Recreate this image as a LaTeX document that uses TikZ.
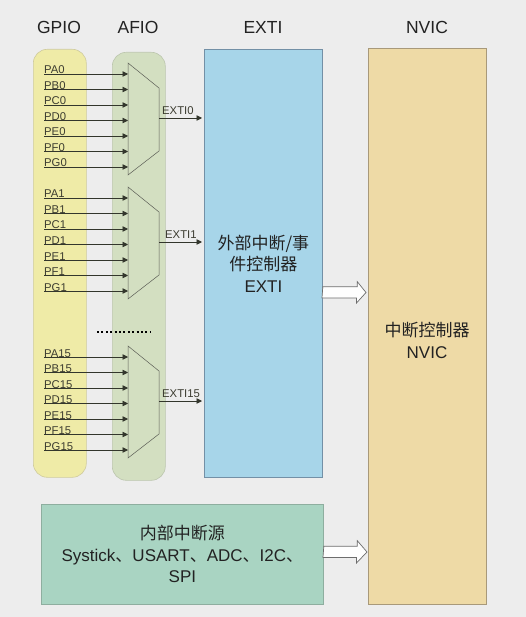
\documentclass[tikz,border=0pt]{standalone}
\usepackage{fontspec}
\setmainfont{Liberation Sans}
\newfontfamily\cjk{Noto Sans CJK SC}
\usetikzlibrary{arrows.meta}
\definecolor{bgc}{HTML}{EDEDED}
\definecolor{gpiofill}{HTML}{EFEBA7}
\definecolor{gpioline}{HTML}{CFCB9E}
\definecolor{afiofill}{HTML}{D3DFC1}
\definecolor{afioline}{HTML}{BCC6AE}
\definecolor{extifill}{HTML}{A7D5E9}
\definecolor{extiline}{HTML}{7390A6}
\definecolor{nvicfill}{HTML}{EEDAA6}
\definecolor{nvicline}{HTML}{A8997A}
\definecolor{intfill}{HTML}{A9D4C2}
\definecolor{intline}{HTML}{8EAE9F}
\definecolor{wire}{HTML}{33362C}
\definecolor{txt}{HTML}{222222}
\definecolor{pintxt}{HTML}{3C3C30}
\tikzset{
  pill/.style={rounded corners=14pt, line width=0.6pt, minimum width=53pt, minimum height=428pt, anchor=north west, inner sep=0pt},
  blockbox/.style={line width=0.8pt, anchor=north west, inner sep=0pt},
  title/.style={text=txt, font=\fontsize{17.5}{20}\selectfont},
  pinlbl/.style={anchor=base west, inner sep=0pt, text=pintxt, font=\fontsize{11.3}{13}\selectfont},
  extilbl/.style={anchor=base west, inner sep=0pt, text=pintxt, font=\fontsize{11.3}{13}\selectfont},
  inarr/.style={draw=wire, line width=0.7pt, -{Triangle[length=5.5pt,width=5.5pt]}},
  mux/.style={draw=wire!80, line width=0.5pt, fill=afiofill},
  bigtext/.style={text=txt, align=center, font=\fontsize{17}{21.5}\selectfont},
  hollow/.style={draw=gray!85!black, fill=white!92!bgc, line width=0.7pt, line join=miter},
}
\begin{document}
\begin{tikzpicture}[x=1pt,y=-1pt]
\fill[bgc] (0,0) rectangle (526,617);
\useasboundingbox (0,0) rectangle (526,617);

% titles
\node[title] (tgpio) at (59,27) {GPIO};
\node[title] (tafio) at (138,27) {AFIO};
\node[title] (texti) at (263,27) {EXTI};
\node[title] (tnvic) at (427,27) {NVIC};

% columns
\node[pill, fill=gpiofill, draw=gpioline] (gpio) at (33,49) {};
\node[pill, fill=afiofill, draw=afioline] (afio) at (112,52) {};
\node[blockbox, fill=extifill, draw=extiline, minimum width=118pt, minimum height=428pt] (exti) at (204,49) {};
\node[blockbox, fill=nvicfill, draw=nvicline, minimum width=118pt, minimum height=556pt] (nvic) at (368,48) {};
\node[blockbox, fill=intfill, draw=intline, minimum width=282pt, minimum height=100pt] (intsrc) at (41,504) {};

% texts in blocks
\node[bigtext] (extitxt) at (exti.center) {{\cjk 外部中断/事}\\{\cjk 件控制器}\\EXTI};
\node[bigtext] (nvictxt) at (427,340.5) {{\cjk 中断控制器}\\NVIC};
\node[bigtext] (inttxt) at (intsrc.center) {{\cjk 内部中断源}\\Systick{\cjk 、}USART{\cjk 、}ADC{\cjk 、}I2C{\cjk 、}\\SPI};

% multiplexer groups
\foreach \g/\y/\sfx/\lx in {1/74/0/162, 2/198/1/165, 3/357/15/162} {
  \draw[mux] (128,\y-11) -- (159,\y+14) -- (159,\y+77) -- (128,\y+101) -- cycle;
  \foreach \p [count=\i from 0] in {A,B,C,D,E,F,G} {
    \node[pinlbl] (p\p\sfx) at (44,\y+15.5*\i) {P\p\sfx};
    \coordinate (m\g in\i) at (128,\y+15.5*\i);
    \draw[inarr] (p\p\sfx.base west) -- (m\g in\i);
  }
  \coordinate (m\g out) at (159,\y+44);
  \node[extilbl] (lbl\g) at (\lx,\y+40.5) {EXTI\sfx};
  \draw[inarr, shorten >=2pt] (m\g out) -- (m\g out -| exti.west);
}

% dots
\draw[line width=2pt, dash pattern=on 2pt off 2.4pt] (97,332) -- (150,332);

% hollow arrows
\coordinate (a1) at (exti.east |- 0,292.5);
\draw[hollow] (a1) ++(0,-5.8) -- ++(34.5,0) -- ++(0,-5) -- (366,292.5) -- (356.5,303) -- ++(0,-5) -- ++(-34.5,0) -- cycle;
\coordinate (a2) at (intsrc.east |- 0,552);
\draw[hollow] (a2) ++(0,-5.8) -- ++(33.5,0) -- ++(0,-5.5) -- (367,552) -- (356.5,563) -- ++(0,-5.5) -- ++(-33.5,0) -- cycle;
\end{tikzpicture}
\end{document}
